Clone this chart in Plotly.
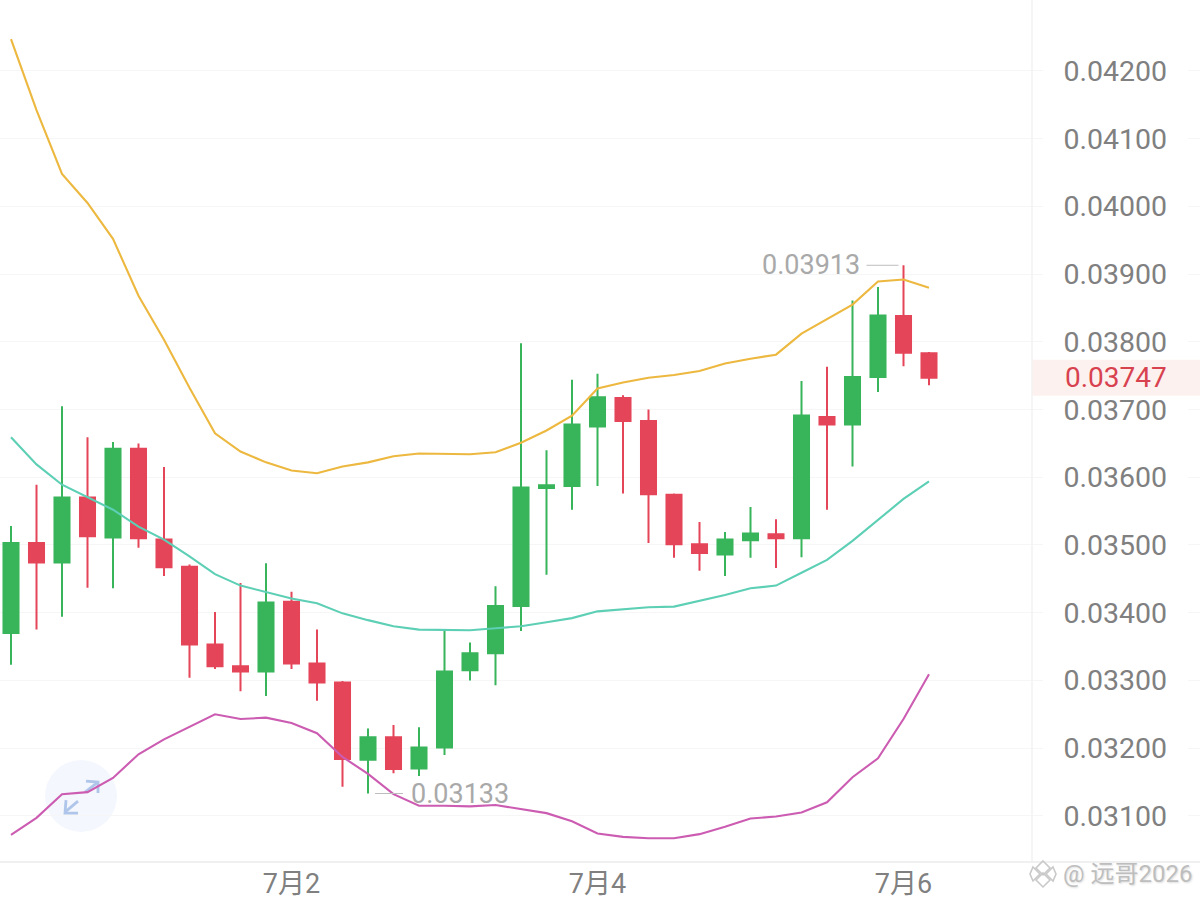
import plotly.graph_objects as go

# 4h candles
candle_idx = list(range(37))
opens = [.03370, .03503, .03474, .03570, .03511, .03642, .03508, .03468, .03353, .03321, .03313, .03416, .03325,
         .03297, .03183, .03216, .03170, .03201, .03315, .03340, .03410, .03584, .03587, .03675, .03717, .03683,
         .03574, .03501, .03486, .03507, .03516, .03510, .03689, .03678, .03748, .03838, .03783]
highs = [.03528, .03589, .03705, .03659, .03652, .03650, .03615, .03471, .03401, .03444, .03473, .03431, .03375,
         .03299, .03229, .03234, .03231, .03375, .03356, .03439, .03798, .03640, .03744, .03753, .03721, .03700,
         .03576, .03534, .03519, .03556, .03538, .03742, .03763, .03861, .03881, .03913, .03785]
lows = [.03323, .03375, .03394, .03437, .03436, .03496, .03454, .03304, .03317, .03284, .03277, .03317, .03270,
        .03143, .03133, .03163, .03159, .03190, .03300, .03293, .03373, .03456, .03552, .03587, .03576, .03503,
        .03481, .03462, .03454, .03481, .03466, .03482, .03552, .03616, .03726, .03764, .03736]
closes = [.03503, .03474, .03570, .03513, .03642, .03510, .03467, .03353, .03321, .03313, .03415, .03325, .03297,
          .03184, .03216, .03169, .03201, .03313, .03340, .03410, .03585, .03588, .03678, .03718, .03683, .03575,
          .03501, .03488, .03508, .03517, .03510, .03691, .03678, .03748, .03839, .03784, .03747]

# bollinger bands
upper = [.04247, .04142, .04048, .04005, .03952, .03868, .03803, .03732, .03665, .03638, .03622, .03610, .03606,
         .03616, .03622, .03631, .03635, .03635, .03634, .03637, .03651, .03669, .03691, .03731, .03740, .03747,
         .03751, .03757, .03768, .03775, .03781, .03812, .03834, .03855, .03889, .03892, .03880]
middle = [.03659, .03619, .03589, .03570, .03552, .03527, .03508, .03483, .03457, .03440, .03431, .03421, .03414,
          .03399, .03389, .03380, .03375, .03375, .03374, .03377, .03380, .03386, .03392, .03402, .03405, .03408,
          .03409, .03417, .03426, .03436, .03440, .03459, .03478, .03506, .03537, .03568, .03594]
lower = [.03072, .03097, .03132, .03135, .03156, .03191, .03213, .03231, .03250, .03243, .03245, .03237, .03222,
         .03187, .03162, .03132, .03115, .03115, .03114, .03116, .03110, .03104, .03092, .03074, .03069, .03067,
         .03067, .03073, .03084, .03096, .03099, .03105, .03120, .03157, .03185, .03243, .03309]

y_ticks = [.031, .032, .033, .034, .035, .036, .037, .038, .039, .040, .041, .042]
y_labels = ["0.03100", "0.03200", "0.03300", "0.03400", "0.03500", "0.03600", "0.03700", "0.03800", "0.03900",
            "0.04000", "0.04100", "0.04200"]
x_ticks = [11, 23, 35]
x_labels = ["7月2", "7月4", "7月6"]
last_price = "0.03747"
high_label = "0.03913"
low_label = "0.03133"
watermark = "@ 远哥2026"

GREEN = "#38B45A"
RED = "#E54558"
FONT = "Roboto, 'Noto Sans CJK SC', sans-serif"
PLOT_W = 1200.0
PLOT_H = 862.0


# helpers for the decoration that sits at fixed screen spots
def data_x(px):
    return (px - 11) / 25.5


def data_y(py):
    return 0.037 - (py - 410) / 67800.0


def paper_x(px):
    return px / PLOT_W


def paper_y(py):
    return 1 - py / PLOT_H


def paper_path(points, close=False):
    s = "M" + " L".join("%.5f,%.5f" % (paper_x(a), paper_y(b)) for a, b in points)
    return s + (" Z" if close else "")


fig = go.Figure()
fig.add_trace(go.Candlestick(
    x=candle_idx, open=opens, high=highs, low=lows, close=closes,
    increasing=dict(line=dict(color=GREEN, width=2), fillcolor=GREEN),
    decreasing=dict(line=dict(color=RED, width=2), fillcolor=RED),
    whiskerwidth=0, showlegend=False, hoverinfo="skip"))
for band, color in [(upper, "#EDB83F"), (middle, "#5DCFB5"), (lower, "#CC5CB2")]:
    fig.add_trace(go.Scatter(x=candle_idx, y=band, mode="lines", line=dict(color=color, width=2.1),
                             showlegend=False, hoverinfo="skip"))

shapes = [
    # white strip behind the price labels, cuts the grid lines
    dict(type="rect", layer="between", xref="x", yref="y", x0=data_x(1043), x1=data_x(1188),
         y0=data_y(862), y1=data_y(0), fillcolor="white", line_width=0),
    dict(type="rect", layer="between", xref="x", yref="y", x0=data_x(1032), x1=data_x(1200),
         y0=closes[-1] - 18 / 67800.0, y1=closes[-1] + 18 / 67800.0, fillcolor="#FDF1F0", line_width=0),
    dict(type="line", layer="between", xref="x", yref="y", x0=data_x(1032), x1=data_x(1032),
         y0=data_y(862), y1=data_y(0), line=dict(color="#F2F2F2", width=1.5)),
    # expand button
    dict(type="circle", layer="below", xref="paper", yref="paper", x0=paper_x(45), x1=paper_x(117),
         y0=paper_y(833), y1=paper_y(761), fillcolor="#F4F7FD", line_width=0),
]
for pts in [[(85, 793), (98, 783)], [(86, 782), (98, 783), (98, 794)],
            [(78, 802), (65, 813)], [(66, 801), (65, 814), (78, 814)]]:
    shapes.append(dict(type="path", layer="below", xref="paper", yref="paper", path=paper_path(pts),
                       line=dict(color="#AFC6EA", width=2.8)))

# binance logo of the watermark
logo = [[(1043, 862), (1050, 869), (1043, 876), (1036, 869)],
        [(1033, 868), (1040, 875), (1033, 882), (1030, 875)],
        [(1053, 868), (1056, 875), (1053, 882), (1046, 875)],
        [(1043, 874), (1050, 881), (1043, 888), (1036, 881)]]
for pts in logo:
    shapes.append(dict(type="path", layer="above", xref="paper", yref="paper", path=paper_path(pts, True),
                       line=dict(color="#C9C9C9", width=1.6)))

annotations = [
    dict(xref="paper", yref="y", x=paper_x(1116), y=closes[-1], text=last_price, showarrow=False,
         font=dict(family=FONT, size=28, color="#D8424F"), xanchor="center", yanchor="middle"),
    dict(xref="x", yref="y", x=candle_idx[35], y=highs[35], text=high_label, xanchor="right", yanchor="middle",
         axref="pixel", ayref="pixel", ax=-42, ay=0, arrowhead=0, arrowwidth=1, arrowcolor="#BDBDBD",
         standoff=5, startstandoff=5, font=dict(family=FONT, size=27, color="#A9A9A9")),
    dict(xref="x", yref="y", x=candle_idx[14], y=lows[14], text=low_label, xanchor="left", yanchor="middle",
         axref="pixel", ayref="pixel", ax=41, ay=0, arrowhead=0, arrowwidth=1, arrowcolor="#BDBDBD",
         standoff=7, startstandoff=6, font=dict(family=FONT, size=27, color="#A9A9A9")),
    dict(xref="paper", yref="paper", x=paper_x(1061), y=paper_y(875), text=watermark, showarrow=False,
         xanchor="left", yanchor="middle",
         font=dict(family=FONT, size=24, color="#BEBEBE", shadow="1px 1px 2px #DDDDDD")),
]

fig.update_layout(
    width=1200, height=900,
    margin=dict(l=0, r=0, t=0, b=35.2),
    paper_bgcolor="white", plot_bgcolor="white",
    boxgap=0.157, hovermode=False, shapes=shapes, annotations=annotations,
    xaxis=dict(range=[data_x(0), data_x(1200)], rangeslider_visible=False, tickmode="array",
               tickvals=x_ticks, ticktext=x_labels, showgrid=False, zeroline=False, ticks="",
               showline=True, linecolor="#F0F0F0", linewidth=1.5, ticklabelstandoff=-2,
               tickfont=dict(family=FONT, size=27, color="#808080")),
    yaxis=dict(range=[data_y(862), data_y(0)], side="right", tickmode="array", tickvals=y_ticks,
               ticktext=y_labels, ticklabelposition="inside", ticklabelstandoff=30, ticks="",
               showgrid=True, gridcolor="#F6F6F6", gridwidth=1, zeroline=False, showline=False,
               tickfont=dict(family=FONT, size=28.5, color="#808080")),
)

fix_page = ("document.body.style.margin='0';document.body.style.height='900px';"
            "document.body.style.overflow='hidden';document.documentElement.style.overflow='hidden';")
fig.write_html("out.html", config=dict(displayModeBar=False), post_script=fix_page)
